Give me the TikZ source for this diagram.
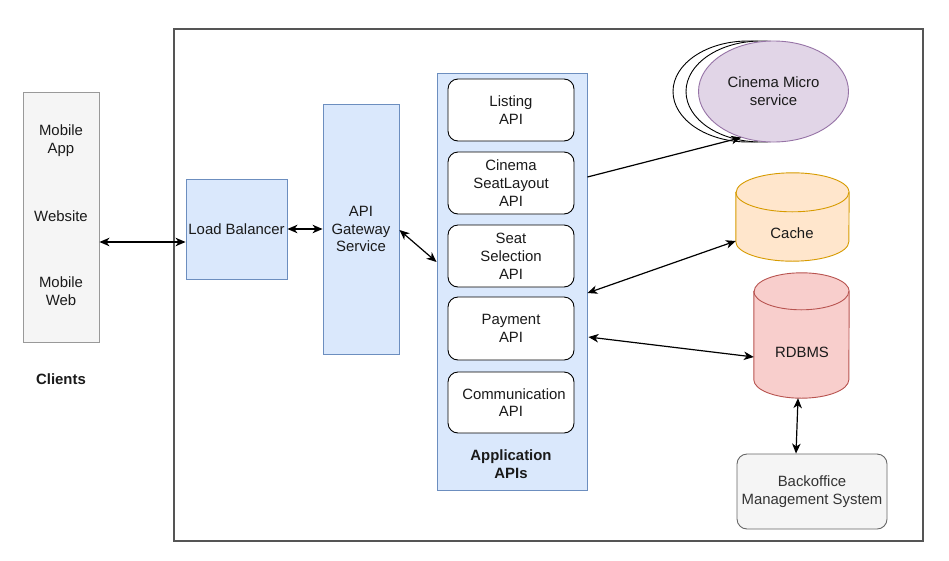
\documentclass[tikz,border=0pt]{standalone}
\usepackage{fontspec}
\setmainfont{Liberation Sans}
\usetikzlibrary{arrows.meta,shapes.geometric,calc}
\definecolor{bluefill}{HTML}{DAE8FC}
\definecolor{blueline}{HTML}{6C8EBF}
\definecolor{greyfill}{HTML}{F5F5F5}
\definecolor{greyline}{HTML}{999999}
\definecolor{darkline}{HTML}{666666}
\definecolor{purplefill}{HTML}{E1D5E7}
\definecolor{purpleline}{HTML}{9673A6}
\definecolor{orangefill}{HTML}{FFE6CC}
\definecolor{orangeline}{HTML}{D79B00}
\definecolor{redfill}{HTML}{F8CECC}
\definecolor{redline}{HTML}{B85450}
\definecolor{txt}{HTML}{1A1A1A}
\definecolor{frameline}{HTML}{555555}
\tikzset{
  base/.style={font=\fontsize{14.9pt}{17.8pt}\selectfont, text=txt, align=center, inner sep=0pt},
  bluebox/.style={base, draw=blueline, fill=bluefill, line width=0.9pt},
  apibox/.style={base, draw=black, fill=white, rounded corners=10pt, line width=0.9pt, minimum width=126pt},
  link/.style={line width=1.2pt, black},
  both/.style={link, {Stealth[length=10pt,width=8.5pt,inset=3pt]}-{Stealth[length=10pt,width=8.5pt,inset=3pt]}},
  one/.style={link, -{Stealth[length=10pt,width=8.5pt,inset=3pt]}},
  boldlabel/.style={base, font=\fontsize{14.9pt}{17.8pt}\selectfont\bfseries},
}
\begin{document}
\begin{tikzpicture}[x=1pt,y=-1pt]
\useasboundingbox (0,0) rectangle (949,560);
\fill[white] (0,0) rectangle (949,560);
% outer frame
\node[draw=frameline, line width=1.6pt, minimum width=749pt, minimum height=512pt, inner sep=0pt] (frame) at (548.5,285) {};
% clients
\node[base, draw=greyline, fill=greyfill, line width=0.9pt, minimum width=76pt, minimum height=250pt] (clients) at (61,217) {};
\node[base] (mapp) at (61,141) {Mobile\\App};
\node[base] (web) at (61,216) {Website};
\node[base] (mweb) at (61,291) {Mobile\\Web};
\node[boldlabel] (clientslbl) at (61,379) {Clients};
% load balancer and gateway
\node[bluebox, minimum width=101pt, minimum height=100pt] (lb) at (236.5,229) {Load Balancer};
\node[bluebox, minimum width=76pt, minimum height=250pt] (gw) at (361,229) {API\\Gateway\\Service};
% application APIs
\node[bluebox, minimum width=150pt, minimum height=417pt] (apps) at (512,281.5) {};
\node[apibox, minimum height=62pt] (listing) at (511,110) {Listing\\API};
\node[apibox, minimum height=62pt] (seatlayout) at (511,183) {Cinema\\SeatLayout\\API};
\node[apibox, minimum height=62pt] (seatsel) at (511,256) {Seat\\Selection\\API};
\node[apibox, minimum height=63pt] (payment) at (511,328.5) {Payment\\API};
\node[apibox, minimum height=61pt] (comm) at (511,402.5) {\hspace*{6pt}Communication\\API};
\node[boldlabel] (appslbl) at (511,464) {Application\\APIs};
% cinema micro service
\node[ellipse, draw=black, fill=white, line width=0.9pt, minimum width=150pt, minimum height=101pt, inner sep=0pt] (micro3) at (748,91.5) {};
\node[ellipse, draw=black, fill=white, line width=0.9pt, minimum width=150pt, minimum height=101pt, inner sep=0pt] (micro2) at (761,91.5) {};
\node[base, ellipse, draw=purpleline, fill=purplefill, line width=0.9pt, minimum width=150pt, minimum height=101pt] (micro) at (773.5,91.5) {Cinema Micro\\service};
% cache cylinder
\node[base, minimum width=113pt, minimum height=88pt] (cache) at (792.5,217) {};
\draw[draw=orangeline, fill=orangefill, line width=0.9pt]
  ([yshift=-19.5pt]cache.north west) -- ([yshift=19.5pt]cache.south west)
  arc[start angle=180, end angle=360, x radius=56.5pt, y radius=19.5pt]
  -- ([yshift=-19.5pt]cache.north east)
  arc[start angle=0, end angle=180, x radius=56.5pt, y radius=19.5pt] -- cycle;
\draw[draw=orangeline, line width=0.9pt] ([yshift=-19.5pt]cache.north west)
  arc[start angle=180, end angle=360, x radius=56.5pt, y radius=19.5pt];
\node[base] (cachelbl) at (792,233) {Cache};
% RDBMS cylinder
\node[base, minimum width=95pt, minimum height=125pt] (rdbms) at (801.5,335.5) {};
\draw[draw=redline, fill=redfill, line width=0.9pt]
  ([yshift=-18.5pt]rdbms.north west) -- ([yshift=18.5pt]rdbms.south west)
  arc[start angle=180, end angle=360, x radius=47.5pt, y radius=18.5pt]
  -- ([yshift=-18.5pt]rdbms.north east)
  arc[start angle=0, end angle=180, x radius=47.5pt, y radius=18.5pt] -- cycle;
\draw[draw=redline, line width=0.9pt] ([yshift=-18.5pt]rdbms.north west)
  arc[start angle=180, end angle=360, x radius=47.5pt, y radius=18.5pt];
\node[base] (rdbmslbl) at (802,352) {RDBMS};
% backoffice
\node[base, draw=darkline, fill=greyfill, rounded corners=10pt, line width=0.9pt, minimum width=150pt, minimum height=75pt, text=black!80] (back) at (812,491.5) {Backoffice\\Management System};
% connectors
\draw[both] ([yshift=-25pt]clients.east) -- ([yshift=-25pt]clients.east -| lb.west);
\draw[both] (lb.east) -- (gw.east -| gw.west);
\draw[both] ([yshift=-1pt]gw.east) -- ([yshift=19.5pt]apps.west);
\draw[one] ([yshift=6pt]apps.east |- seatlayout.east) -- (micro.235);
\draw[both] ([yshift=-11.5pt]apps.east) -- ([yshift=-24pt]cache.west);
\draw[both] ([xshift=1pt,yshift=-55.5pt]apps.east) -- ([yshift=-21.5pt]rdbms.west);
\draw[both] ([xshift=-3.5pt]rdbms.south) -- ([xshift=-16pt]back.north);
\end{tikzpicture}
\end{document}
